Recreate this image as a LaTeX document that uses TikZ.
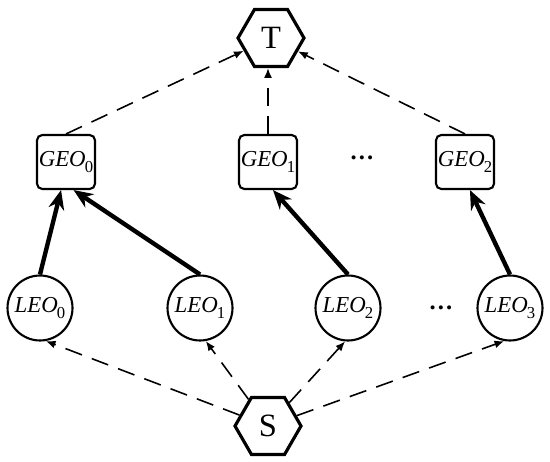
\documentclass[tikz,border=0pt]{standalone}
\usepackage{fontspec}
\setmainfont{Liberation Serif}
\usetikzlibrary{shapes.geometric,arrows.meta}
\newcommand{\sat}[2]{\textit{#1}\kern-0.5pt\raisebox{-0.5ex}{\fontsize{9.5}{10}\selectfont #2}}
\newcommand{\moresats}{\textbf{.\kern1.2pt.\kern1.2pt.}}
\begin{document}
\begin{tikzpicture}[x=0.02cm,y=-0.02cm,
    hexa/.style={regular polygon,regular polygon sides=6,draw,line width=1.8pt,minimum size=1.32cm,inner sep=0pt,font=\fontsize{18.5}{20}\selectfont},
    geo/.style={draw,rounded corners=3pt,line width=1.2pt,minimum width=1.16cm,minimum height=1.08cm,inner sep=1pt,font=\fontsize{13}{15}\selectfont},
    leo/.style={circle,draw,line width=1.2pt,minimum size=1.3cm,inner sep=0pt,font=\fontsize{13}{15}\selectfont},
    link/.style={dash pattern=on 10pt off 6pt,line width=0.9pt,-{Latex[length=5.5pt,width=4.5pt]}},
    feed/.style={line width=2.5pt,-{Stealth[length=11pt,width=9pt]}}]
    \useasboundingbox (0,0) rectangle (550,462);
    % top and bottom
    \node[hexa] (T) at (271,38) {T};
    \node[hexa] (S) at (268,426) {S};
    % GEO layer
    \node[geo] (GEO0) at (66,162) {\sat{GEO}{0}};
    \node[geo] (GEO1) at (268,162) {\sat{GEO}{1}};
    \node[geo] (GEO2) at (465,162) {\sat{GEO}{2}};
    \node[font=\fontsize{14}{16}\selectfont] (dotsG) at (362,158) {\moresats};
    % LEO layer
    \node[leo] (LEO0) at (40,308) {\sat{LEO}{0}};
    \node[leo] (LEO1) at (200,308) {\sat{LEO}{1}};
    \node[leo] (LEO2) at (348,308) {\sat{LEO}{2}};
    \node[leo] (LEO3) at (510,308) {\sat{LEO}{3}};
    \node[font=\fontsize{14}{16}\selectfont] (dotsL) at (441,308) {\moresats};
    % S to LEO
    \draw[link] (S) -- (LEO0.-80);
    \draw[link] (S) -- (LEO1.-80);
    \draw[link] (S) -- (LEO2.-95);
    \draw[link] (S) -- (LEO3.-100);
    % LEO to GEO
    \draw[feed] (LEO0.north) -- (GEO0.-100);
    \draw[feed] (LEO1.north) -- (GEO0.-75);
    \draw[feed] (LEO2.north) -- (GEO1.-80);
    \draw[feed] (LEO3.north) -- (GEO2.-80);
    % GEO to T
    \draw[link] (GEO0.north) -- (T);
    \draw[link] (GEO1.north) -- (GEO1.north |- T.south);
    \draw[link] (GEO2.north) -- (T);
\end{tikzpicture}
\end{document}
